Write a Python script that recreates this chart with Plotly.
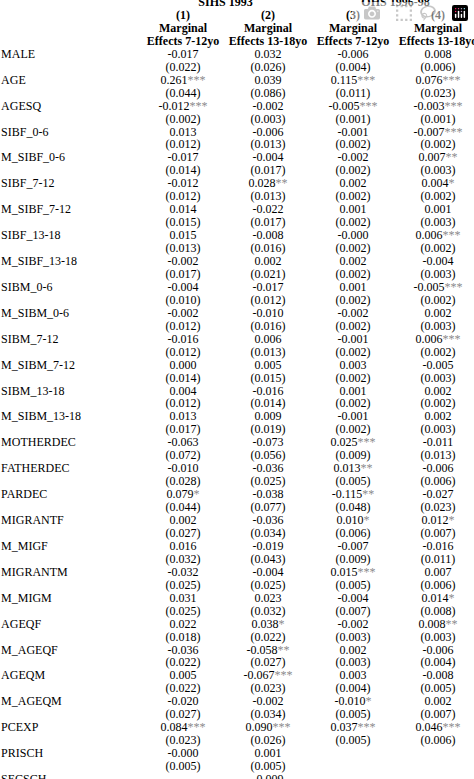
import plotly.graph_objects as go

variables = ["MALE", "AGE", "AGESQ", "SIBF_0-6", "M_SIBF_0-6", "SIBF_7-12", "M_SIBF_7-12",
             "SIBF_13-18", "M_SIBF_13-18", "SIBM_0-6", "M_SIBM_0-6", "SIBM_7-12", "M_SIBM_7-12",
             "SIBM_13-18", "M_SIBM_13-18", "MOTHERDEC", "FATHERDEC", "PARDEC", "MIGRANTF",
             "M_MIGF", "MIGRANTM", "M_MIGM", "AGEQF", "M_AGEQF", "AGEQM", "M_AGEQM",
             "PCEXP", "PRISCH", "SECSCH"]

col1_coef = ["-0.017", "0.261***", "-0.012***", "0.013", "-0.017", "-0.012", "0.014", "0.015", "-0.002",
             "-0.004", "-0.002", "-0.016", "0.000", "0.004", "0.013", "-0.063", "-0.010", "0.079*",
             "0.002", "0.016", "-0.032", "0.031", "0.022", "-0.036", "0.005", "-0.020", "0.084***",
             "-0.000", ""]
col1_se = ["0.022", "0.044", "0.002", "0.012", "0.014", "0.012", "0.015", "0.013", "0.017", "0.010",
           "0.012", "0.012", "0.014", "0.012", "0.017", "0.072", "0.028", "0.044", "0.027", "0.032",
           "0.025", "0.025", "0.018", "0.022", "0.022", "0.027", "0.023", "0.005", ""]
col2_coef = ["0.032", "0.039", "-0.002", "-0.006", "-0.004", "0.028**", "-0.022", "-0.008", "0.002",
             "-0.017", "-0.010", "0.006", "0.005", "-0.016", "0.009", "-0.073", "-0.036", "-0.038",
             "-0.036", "-0.019", "-0.004", "0.023", "0.038*", "-0.058**", "-0.067***", "-0.002",
             "0.090***", "0.001", "-0.009"]
col2_se = ["0.026", "0.086", "0.003", "0.013", "0.017", "0.013", "0.017", "0.016", "0.021", "0.012",
           "0.016", "0.013", "0.015", "0.014", "0.019", "0.056", "0.025", "0.077", "0.034", "0.043",
           "0.025", "0.032", "0.022", "0.027", "0.023", "0.034", "0.026", "0.005", ""]
col3_coef = ["-0.006", "0.115***", "-0.005***", "-0.001", "-0.002", "0.002", "0.001", "-0.000", "0.002",
             "0.001", "-0.002", "-0.001", "0.003", "0.001", "-0.001", "0.025***", "0.013**", "-0.115**",
             "0.010*", "-0.007", "0.015***", "-0.004", "-0.002", "0.002", "0.003", "-0.010*",
             "0.037***", "", ""]
col3_se = ["0.004", "0.011", "0.001", "0.002", "0.002", "0.002", "0.002", "0.002", "0.002", "0.002",
           "0.002", "0.002", "0.002", "0.002", "0.002", "0.009", "0.005", "0.048", "0.006", "0.009",
           "0.005", "0.007", "0.003", "0.003", "0.004", "0.005", "0.005", "", ""]
col4_coef = ["0.008", "0.076***", "-0.003***", "-0.007***", "0.007**", "0.004*", "0.001", "0.006***",
             "-0.004", "-0.005***", "0.002", "0.006***", "-0.005", "0.002", "0.002", "-0.011", "-0.006",
             "-0.027", "0.012*", "-0.016", "0.007", "0.014*", "0.008**", "-0.006", "-0.008", "0.002",
             "0.046***", "", ""]
col4_se = ["0.006", "0.023", "0.001", "0.002", "0.003", "0.002", "0.003", "0.002", "0.003", "0.002",
           "0.003", "0.002", "0.003", "0.002", "0.003", "0.013", "0.006", "0.023", "0.007", "0.011",
           "0.006", "0.008", "0.003", "0.004", "0.005", "0.007", "0.006", "", ""]

column_numbers = ["(1)", "(2)", "(3)", "(4)"]
column_titles = ["Effects 7-12yo", "Effects 13-18yo", "Effects 7-12yo", "Effects 13-18yo"]
survey_titles = ["SIHS 1993", "OHS 1996-98"]

FONT = "Liberation Serif, Times New Roman, serif"


def fmt_coef(s):
    # stars printed lighter than the number
    if "*" in s:
        n = s.count("*")
        return s.replace("*", "") + "<span style='color:#8a8a8a'>" + "*" * n + "</span>"
    return s


fig = go.Figure()

first_row = 4
var_rows = [first_row + 2 * i for i in range(len(variables))]
se_rows = [r + 1 for r in var_rows]

# variable names
fig.add_trace(go.Scatter(x=[-1.14] * len(variables), y=var_rows, text=variables, mode="text",
                         textposition="middle right", textfont=dict(family=FONT, size=12, color="black"),
                         hoverinfo="skip"))

for i, (coef, se) in enumerate([(col1_coef, col1_se), (col2_coef, col2_se),
                                (col3_coef, col3_se), (col4_coef, col4_se)]):
    xc = i + 1
    fig.add_trace(go.Scatter(x=[xc] * len(coef), y=var_rows, text=[fmt_coef(c) for c in coef],
                             mode="text", textposition="middle center",
                             textfont=dict(family=FONT, size=12, color="black"), hoverinfo="skip"))
    fig.add_trace(go.Scatter(x=[xc] * len(se), y=se_rows, text=[f"({s})" if s else "" for s in se],
                             mode="text", textposition="middle center",
                             textfont=dict(family=FONT, size=12, color="black"), hoverinfo="skip"))

# headers
hx = [1, 2, 3, 4]
fig.add_trace(go.Scatter(x=hx, y=[1] * 4, text=[f"<b>{c}</b>" for c in column_numbers], mode="text",
                         textfont=dict(family=FONT, size=12, color="black"), hoverinfo="skip"))
fig.add_trace(go.Scatter(x=hx, y=[2] * 4, text=["<b>Marginal</b>"] * 4, mode="text",
                         textfont=dict(family=FONT, size=12, color="black"), hoverinfo="skip"))
fig.add_trace(go.Scatter(x=hx, y=[3] * 4, text=[f"<b>{c}</b>" for c in column_titles], mode="text",
                         textfont=dict(family=FONT, size=12, color="black"), hoverinfo="skip"))
fig.add_trace(go.Scatter(x=[1.5, 3.5], y=[0, 0], text=[f"<b>{s}</b>" for s in survey_titles], mode="text",
                         textfont=dict(family=FONT, size=12, color="black"), hoverinfo="skip"))

fig.update_layout(
    width=474, height=779,
    margin=dict(l=0, r=0, t=0, b=0),
    showlegend=False,
    plot_bgcolor="white",
    paper_bgcolor="white",
    xaxis=dict(range=[-98 / 85, 376 / 85], visible=False, fixedrange=True),
    yaxis=dict(range=[(779 - 3) / 12.95, -3 / 12.95], visible=False, fixedrange=True),
)

fig.write_html("out.html",
               post_script="document.body.style.margin='0';document.body.style.overflow='hidden';")
